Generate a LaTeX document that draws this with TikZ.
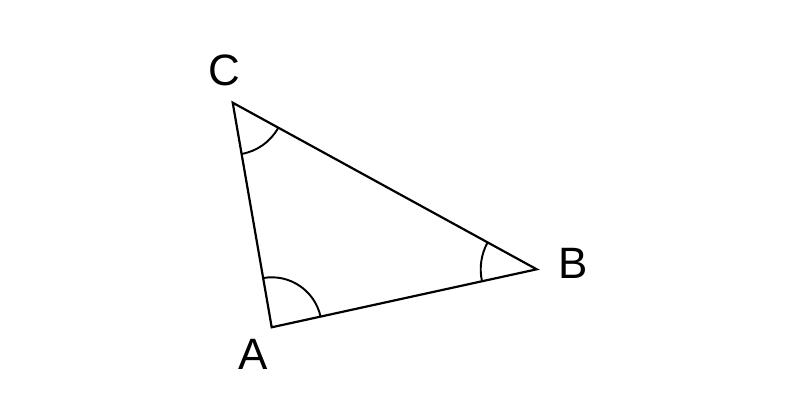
\documentclass[tikz,border=0pt]{standalone}
\usepackage{fontspec}
\setmainfont{Liberation Sans}
\usetikzlibrary{angles}
\begin{document}
\begin{tikzpicture}
  \tikzstyle{side}=[line width=1.25pt, line join=miter]
  \tikzstyle{anglearc}=[draw, line width=1.1pt]
  \tikzstyle{vlabel}=[font=\fontsize{25}{27}\selectfont, inner sep=0pt]

  \useasboundingbox (0,0) rectangle (16,8);

  \coordinate (A) at (5.434, 1.454);
  \coordinate (B) at (10.734, 2.614);
  \coordinate (C) at (4.654, 5.946);

  \node[vlabel] (lA) at (5.07, 0.92) {A};
  \node[vlabel] (lB) at (11.46, 2.74) {B};
  \node[vlabel] (lC) at (4.48, 6.60) {C};

  \draw[side] (A) -- (B) -- (C) -- cycle;

  \pic[anglearc, angle radius=1.0cm]  {angle = B--A--C};
  \pic[anglearc, angle radius=1.04cm] {angle = A--C--B};
  \pic[anglearc, angle radius=1.12cm] {angle = C--B--A};
\end{tikzpicture}
\end{document}
